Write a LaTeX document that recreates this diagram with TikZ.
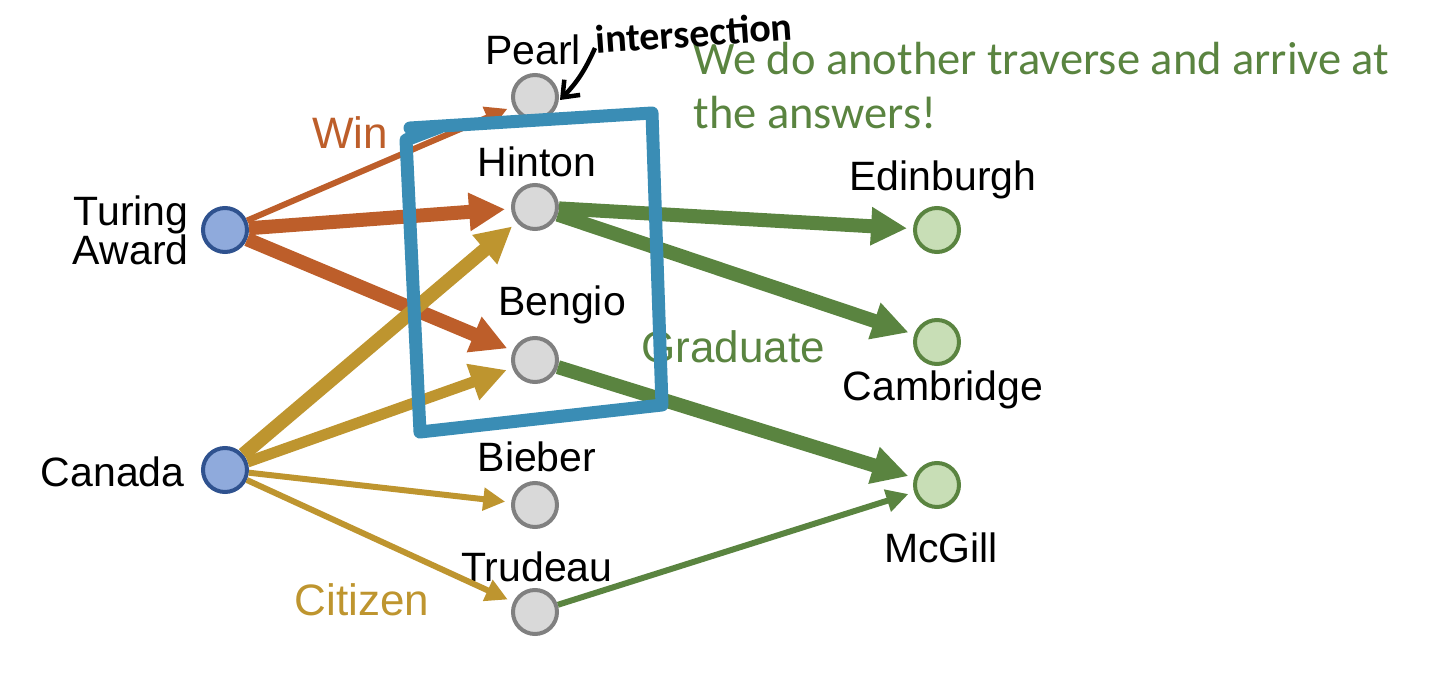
\documentclass[tikz,border=0pt]{standalone}
\usepackage{fontspec}
\setmainfont{Liberation Sans}
\newfontfamily\calfont{Carlito}
\usetikzlibrary{arrows.meta}
\definecolor{win}{HTML}{BD5E2A}
\definecolor{cit}{HTML}{BE952F}
\definecolor{grad}{HTML}{5A8440}
\definecolor{bbl}{HTML}{3A8DB5}
\begin{document}
\begin{tikzpicture}[x=1pt,y=-1pt,
  ent/.style={circle,minimum size=44pt,inner sep=0pt,line width=4pt,fill=gray!30,draw=gray},
  src/.style={ent,fill={rgb,255:red,143;green,170;blue,220},draw={rgb,255:red,47;green,82;blue,143}},
  dst/.style={ent,fill={rgb,255:red,200;green,222;blue,182},draw=grad},
  lab/.style={font=\fontsize{41}{42}\selectfont},
  elab/.style={font=\fontsize{44}{46}\selectfont},
  thk/.style={line width=14pt,-{Triangle[length=36pt,width=36pt]},shorten >=6pt},
  thn/.style={line width=6pt,-{Triangle[length=22pt,width=22pt]},shorten >=6pt}]
\useasboundingbox (0,0) rectangle (1452,688);
\node[src] (tu) at (225,230) {};
\node[src] (ca) at (225,470) {};
\node[ent] (pe) at (535,97) {};
\node[ent] (hi) at (535,207) {};
\node[ent] (be) at (535,360) {};
\node[ent] (bi) at (535,505) {};
\node[ent] (tr) at (535,612) {};
\node[dst] (ed) at (937,230) {};
\node[dst] (cb) at (937,342) {};
\node[dst] (mg) at (937,485) {};
\node[align=right,anchor=east,font=\fontsize{41}{36}\selectfont] (tul) at (192,230) {Turing\\Award};
\node[lab,anchor=east] (cal) at (188,472) {Canada};
\node[lab] (pel) at (533,50) {Pearl};
\node[lab] (hil) at (537,162) {Hinton};
\node[lab] (bel) at (562,305) {Bengio};
\node[lab] (bil) at (537,457) {Bieber};
\node[lab] (trl) at (537,567) {Trudeau};
\node[lab] (edl) at (943,180) {Edinburgh};
\node[lab] (cbl) at (943,390) {Cambridge};
\node[lab] (mgl) at (941,548) {McGill};
\node[elab,text=win] (winl) at (350,133) {Win};
\node[elab,text=cit] (citl) at (362,600) {Citizen};
\node[elab,text=grad] (gradl) at (733,347) {Graduate};
\draw[thn,win] (tu) -- (pe);
\draw[thk,win] (tu) -- (hi);
\draw[thk,win] (tu) -- (be);
\draw[thk,cit] (ca) -- (hi);
\draw[thk,cit,line width=11pt] (ca) -- (be);
\draw[thn,cit] (ca) -- (bi);
\draw[thn,cit] (ca) -- (tr);
\draw[thk,grad] (hi) -- (ed);
\draw[thk,grad] (hi) -- (cb);
\draw[thk,grad] (be) -- (mg);
\draw[thn,grad] (tr) -- (mg);
\draw[bbl,line width=13pt,line join=round,line cap=round] (410,128) -- (652,113) -- (662,405) -- (420,432) -- (406,140) -- (440,127);
\node[anchor=west,text=grad,align=left,font=\calfont\fontsize{46.5}{54}\selectfont] (txt) at (690,86) {We do another traverse and arrive at\\the answers!};
\node[font=\calfont\bfseries\fontsize{40}{40}\selectfont,rotate=4,anchor=west] (isl) at (592,40) {intersection};
\draw[line width=4.5pt,-{Straight Barb[length=14pt,width=22pt]}] (595,48) to[bend left=10] (560,100);
\end{tikzpicture}
\end{document}
